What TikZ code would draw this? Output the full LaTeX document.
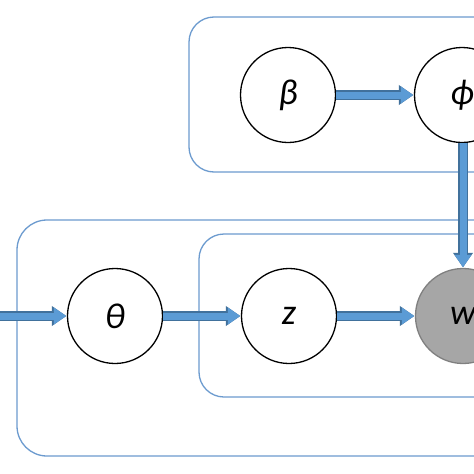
\documentclass[tikz,border=0pt]{standalone}
\usepackage{fontspec}
\setmainfont{Carlito}
\usetikzlibrary{arrows.meta}
\definecolor{boxblue}{HTML}{6C9BCF}
\definecolor{arrfill}{HTML}{5B9BD5}
\definecolor{arrline}{HTML}{41719C}
\definecolor{obsfill}{HTML}{A6A6A6}
\definecolor{obsline}{HTML}{808080}
\tikzset{
  var/.style={circle, draw=black, line width=1.3pt, fill=white, minimum size=95pt, inner sep=0pt, font=\fontsize{36}{40}\selectfont\itshape},
  obs/.style={var, fill=obsfill, draw=obsline},
  plate/.style={draw=boxblue, line width=1.3pt},
  bigarrow/.style={line cap=butt, shorten >=0.5pt,
    preaction={draw=arrline, line width=9.6pt, -{Triangle[width=19pt,length=14.5pt]}},
    draw=arrfill, line width=7pt, -{Triangle[width=16pt,length=12.5pt]}}
}
\begin{document}
\begin{tikzpicture}[x=1pt,y=-1pt]
\useasboundingbox (0,0) rectangle (474,474);
\fill[white] (0,0) rectangle (474,474);
% plates
\draw[plate, rounded corners=25pt] (189,17) rectangle (530,172);
\draw[plate, rounded corners=30pt] (17,220) rectangle (530,456);
\draw[plate, rounded corners=25pt] (199,234) rectangle (530,397);
% nodes
\node[var] (beta) at (288,95) {β};
\node[var] (phi) at (462,95) {ϕ};
\node[var] (theta) at (115,316) {θ};
\node[var] (z) at (289,316) {z};
\node[obs] (w) at (463,316) {w};
\coordinate (in) at (-2,316);
% connectors
\draw[bigarrow] (beta) -- (phi);
\draw[bigarrow] (phi.south -| w.north) -- (w.north);
\draw[bigarrow] (in) -- (theta);
\draw[bigarrow] (theta) -- (z);
\draw[bigarrow] (z) -- (w);
\end{tikzpicture}
\end{document}
